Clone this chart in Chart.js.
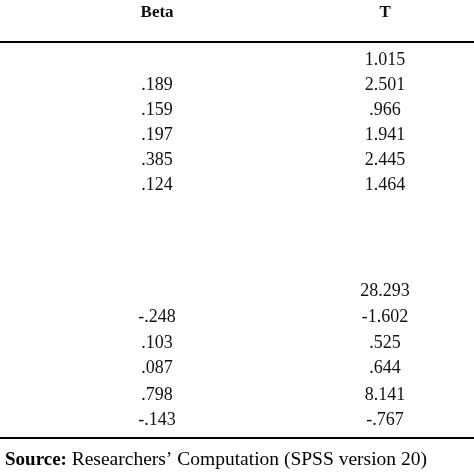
<!DOCTYPE html>
<html>
<head>
<meta charset="utf-8">
<script src="https://cdn.jsdelivr.net/npm/chart.js@4"></script>
<style>
  html, body { margin: 0; padding: 0; background: #fff; overflow: hidden; }
  canvas { display: block; }
</style>
</head>
<body>
<canvas id="tbl" width="474" height="474"></canvas>
<script>
/* ── Data ── */
const COLUMNS    = ['Beta', 'T'];
const ROW_POS    = [0, 1, 2, 3, 4, 5, 9.25, 10.3, 11.35, 12.35, 13.4, 14.4];
const BETA       = ['', '.189', '.159', '.197', '.385', '.124', '', '-.248', '.103', '.087', '.798', '-.143'];
const T_VALUES   = ['1.015', '2.501', '.966', '1.941', '2.445', '1.464', '28.293', '-1.602', '.525', '.644', '8.141', '-.767'];
const SOURCE     = 'Researchers’ Computation (SPSS version 20)';

const FONT = '"Liberation Serif", "DejaVu Serif", serif';

const points = [];
ROW_POS.forEach((r, i) => {
  points.push({ x: 1, y: r, label: BETA[i] });
  points.push({ x: 2, y: r, label: T_VALUES[i] });
});

/* ── Text plugin ── */
const tablePlugin = {
  id: 'tableText',
  afterDatasetsDraw(chart) {
    const { ctx, scales: { x, y } } = chart;
    ctx.save();
    ctx.fillStyle = '#111';
    ctx.textAlign = 'center';
    ctx.textBaseline = 'middle';

    ctx.font = 'bold 17px ' + FONT;
    COLUMNS.forEach((c, i) => ctx.fillText(c, x.getPixelForValue(i + 1), y.getPixelForValue(-1.9)));

    ctx.font = '18px ' + FONT;
    points.forEach(p => {
      if (p.label) ctx.fillText(p.label, x.getPixelForValue(p.x), y.getPixelForValue(p.y));
    });

    ctx.fillStyle = '#000';
    ctx.fillRect(0, y.getPixelForValue(-0.72) - 1, chart.width, 2);
    ctx.fillRect(0, y.getPixelForValue(15.12) - 1, chart.width, 2);

    ctx.textAlign = 'left';
    const sy = y.getPixelForValue(16);
    ctx.font = 'bold 19px ' + FONT;
    ctx.fillText('Source:', 5, sy);
    const w = ctx.measureText('Source: ').width;
    ctx.font = '19.5px ' + FONT;
    ctx.fillText(SOURCE, 5 + w, sy);
    ctx.restore();
  },
};

new Chart(document.getElementById('tbl'), {
  type: 'scatter',
  data: { datasets: [{ data: points, pointRadius: 0, showLine: false }] },
  options: {
    responsive: false, animation: false,
    layout: { padding: 0 },
    scales: {
      x: { type: 'linear', min: 0.311, max: 2.39, display: false },
      y: { type: 'linear', min: -2.4, max: 16.56, reverse: true, display: false },
    },
    plugins: { legend: { display: false }, tooltip: { enabled: false } },
  },
  plugins: [tablePlugin],
});
</script>
</body>
</html>
